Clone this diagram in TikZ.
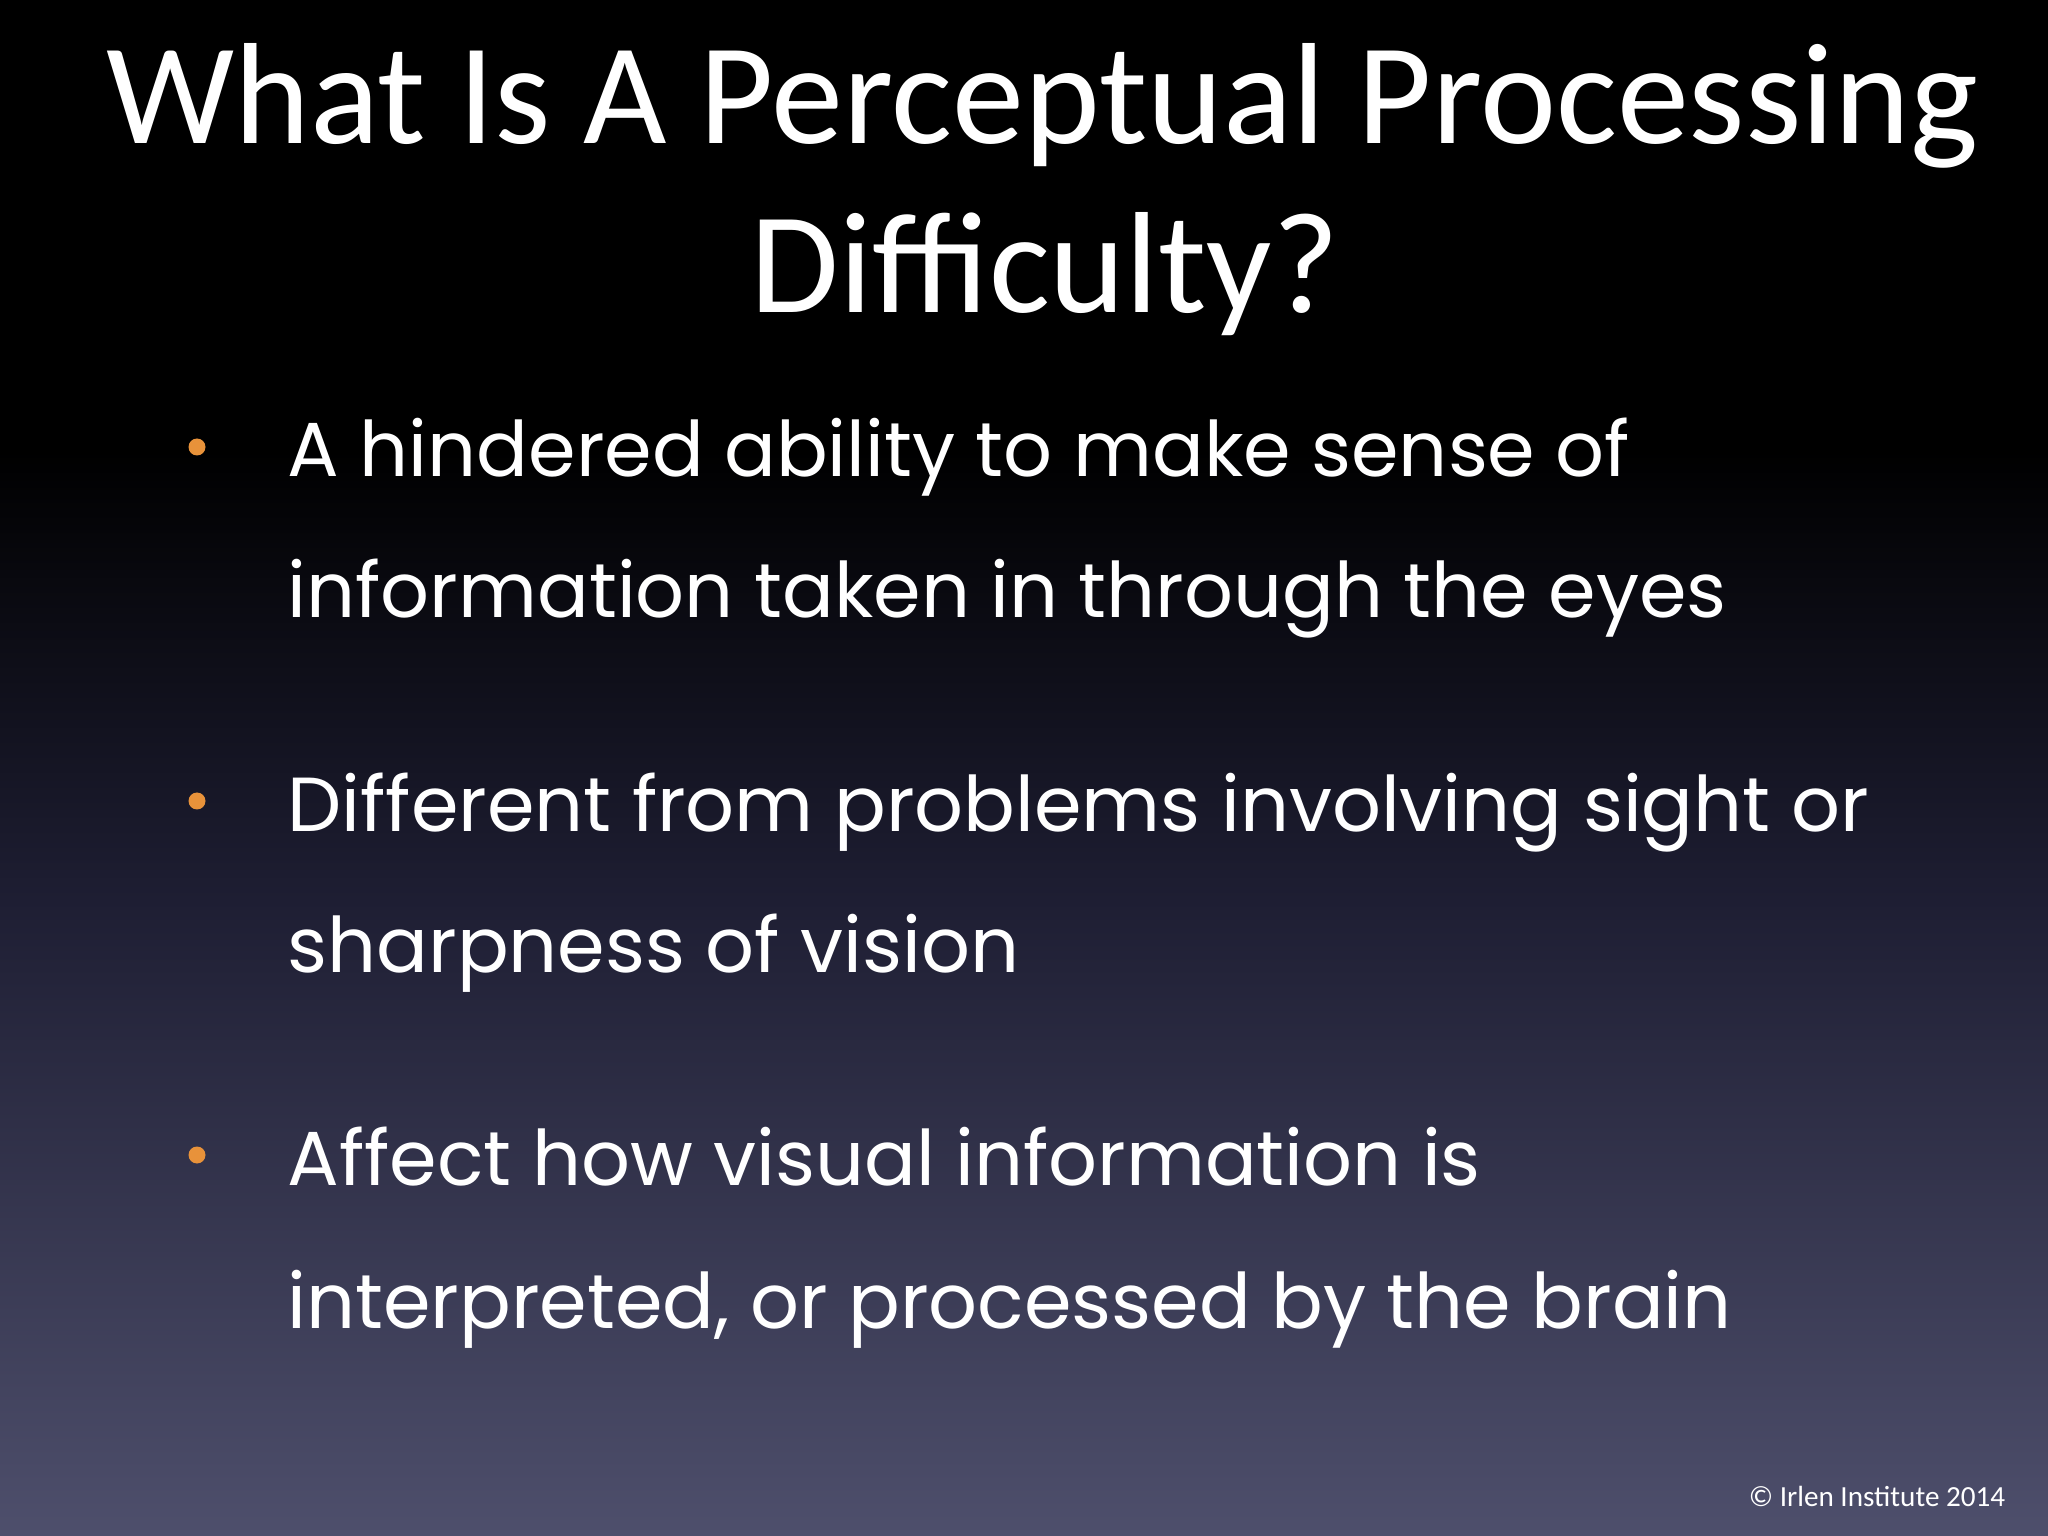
\documentclass[tikz,border=0pt]{standalone}
\usepackage{fontspec}
\setmainfont{Poppins}
\newfontfamily\titlefont{Carlito}
\definecolor{bgbot}{HTML}{4E4F6C}
\definecolor{bgmid}{HTML}{1E1E33}
\definecolor{bul}{HTML}{E8923A}
\tikzset{
  body/.style={anchor=base west,text=white,inner sep=0pt,font=\fontsize{21.8}{26}\selectfont},
  ttl/.style={anchor=base,text=white,inner sep=0pt,font=\titlefont\fontsize{41}{49}\selectfont},
  dot/.style={circle,fill=bul,inner sep=0pt,minimum size=0.17cm}
}
\begin{document}
\begin{tikzpicture}
\useasboundingbox (0,0) rectangle (20.48,-15.36);
\fill[black] (0,0) rectangle (20.48,-4.5);
\shade[top color=black,bottom color=bgmid] (0,-4.5) rectangle (20.48,-9);
\shade[top color=bgmid,bottom color=bgbot] (0,-9) rectangle (20.48,-15.36);
\node[ttl] (t1) at (10.42,-1.44) {What Is A Perceptual Processing};
\node[ttl] (t2) at (10.45,-3.13) {Difficulty?};
\node[dot] (b1) at (1.97,-4.47) {};
\node[dot] (b2) at (1.97,-8.01) {};
\node[dot] (b3) at (1.97,-11.55) {};
\node[body] (l1) at (2.87,-4.77) {A hindered ability to make sense of};
\node[body] (l2) at (2.87,-6.18) {information taken in through the eyes};
\node[body] (l3) at (2.87,-8.31) {Different from problems involving sight or};
\node[body] (l4) at (2.87,-9.73) {sharpness of vision};
\node[body] (l5) at (2.87,-11.85) {Affect how visual information is};
\node[body] (l6) at (2.87,-13.28) {interpreted, or processed by the brain};
\node[anchor=base east,text=white,inner sep=0pt,font=\titlefont\fontsize{8.3}{10}\selectfont] (cp) at (20.06,-15.06) {© Irlen Institute 2014};
\end{tikzpicture}
\end{document}
